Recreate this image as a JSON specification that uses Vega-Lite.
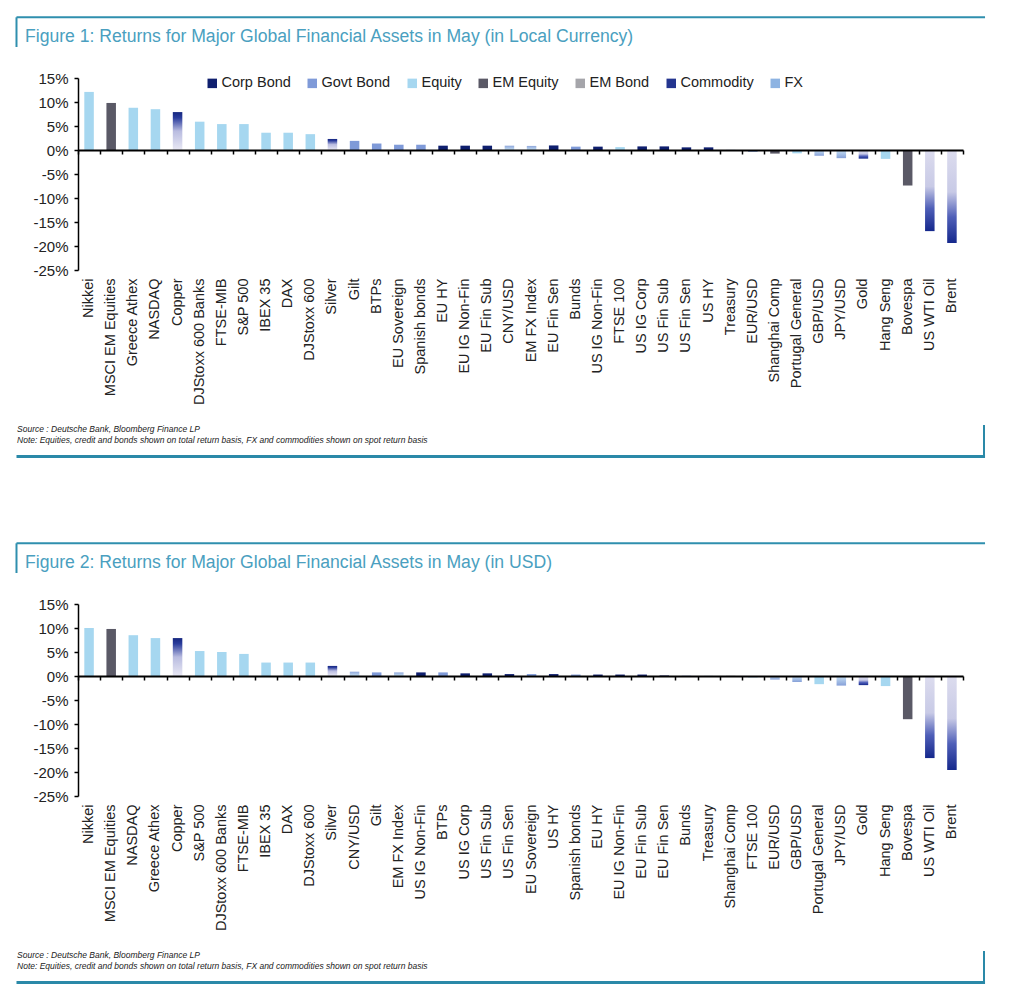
{
  "$schema": "https://vega.github.io/schema/vega-lite/v6.json",
  "background": "white",
  "padding": {"left": 14, "top": 16, "right": 10, "bottom": 5},
  "spacing": 83,
  "datasets": {
    "local": [
      {"name": "Nikkei", "type": "Equity", "v": 12.1},
      {"name": "MSCI EM Equities", "type": "EM Equity", "v": 9.8},
      {"name": "Greece Athex", "type": "Equity", "v": 8.8},
      {"name": "NASDAQ", "type": "Equity", "v": 8.5},
      {"name": "Copper", "type": "Commodity", "v": 7.9},
      {"name": "DJStoxx 600 Banks", "type": "Equity", "v": 5.9},
      {"name": "FTSE-MIB", "type": "Equity", "v": 5.4},
      {"name": "S&P 500", "type": "Equity", "v": 5.4},
      {"name": "IBEX 35", "type": "Equity", "v": 3.6},
      {"name": "DAX", "type": "Equity", "v": 3.6},
      {"name": "DJStoxx 600", "type": "Equity", "v": 3.3},
      {"name": "Silver", "type": "Commodity", "v": 2.3},
      {"name": "Gilt", "type": "Govt Bond", "v": 1.9},
      {"name": "BTPs", "type": "Govt Bond", "v": 1.35},
      {"name": "EU Sovereign", "type": "Govt Bond", "v": 1.1},
      {"name": "Spanish bonds", "type": "Govt Bond", "v": 1.1},
      {"name": "EU HY", "type": "Corp Bond", "v": 0.9},
      {"name": "EU IG Non-Fin", "type": "Corp Bond", "v": 0.9},
      {"name": "EU Fin Sub", "type": "Corp Bond", "v": 0.9},
      {"name": "CNY/USD", "type": "FX", "v": 0.9},
      {"name": "EM FX Index", "type": "FX", "v": 0.85},
      {"name": "EU Fin Sen", "type": "Corp Bond", "v": 0.95},
      {"name": "Bunds", "type": "Govt Bond", "v": 0.7},
      {"name": "US IG Non-Fin", "type": "Corp Bond", "v": 0.7},
      {"name": "FTSE 100", "type": "Equity", "v": 0.6},
      {"name": "US IG Corp", "type": "Corp Bond", "v": 0.75},
      {"name": "US Fin Sub", "type": "Corp Bond", "v": 0.75},
      {"name": "US Fin Sen", "type": "Corp Bond", "v": 0.55},
      {"name": "US HY", "type": "Corp Bond", "v": 0.55},
      {"name": "Treasury", "type": "Govt Bond", "v": 0.02},
      {"name": "EUR/USD", "type": "FX", "v": -0.4},
      {"name": "Shanghai Comp", "type": "EM Equity", "v": -0.75},
      {"name": "Portugal General", "type": "Equity", "v": -0.7},
      {"name": "GBP/USD", "type": "FX", "v": -1.2},
      {"name": "JPY/USD", "type": "FX", "v": -1.7},
      {"name": "Gold", "type": "Commodity", "v": -1.8},
      {"name": "Hang Seng", "type": "Equity", "v": -1.85},
      {"name": "Bovespa", "type": "EM Equity", "v": -7.4},
      {"name": "US WTI Oil", "type": "Commodity", "v": -16.9},
      {"name": "Brent", "type": "Commodity", "v": -19.4}
    ],
    "usd": [
      {"name": "Nikkei", "type": "Equity", "v": 10.0},
      {"name": "MSCI EM Equities", "type": "EM Equity", "v": 9.8},
      {"name": "NASDAQ", "type": "Equity", "v": 8.5},
      {"name": "Greece Athex", "type": "Equity", "v": 7.9},
      {"name": "Copper", "type": "Commodity", "v": 7.9},
      {"name": "S&P 500", "type": "Equity", "v": 5.2},
      {"name": "DJStoxx 600 Banks", "type": "Equity", "v": 5.0},
      {"name": "FTSE-MIB", "type": "Equity", "v": 4.6},
      {"name": "IBEX 35", "type": "Equity", "v": 2.8},
      {"name": "DAX", "type": "Equity", "v": 2.8},
      {"name": "DJStoxx 600", "type": "Equity", "v": 2.8},
      {"name": "Silver", "type": "Commodity", "v": 2.1},
      {"name": "CNY/USD", "type": "FX", "v": 0.9},
      {"name": "Gilt", "type": "Govt Bond", "v": 0.75},
      {"name": "EM FX Index", "type": "FX", "v": 0.75},
      {"name": "US IG Non-Fin", "type": "Corp Bond", "v": 0.75},
      {"name": "BTPs", "type": "Govt Bond", "v": 0.75},
      {"name": "US IG Corp", "type": "Corp Bond", "v": 0.55},
      {"name": "US Fin Sub", "type": "Corp Bond", "v": 0.55},
      {"name": "US Fin Sen", "type": "Corp Bond", "v": 0.4},
      {"name": "EU Sovereign", "type": "Govt Bond", "v": 0.4},
      {"name": "US HY", "type": "Corp Bond", "v": 0.4},
      {"name": "Spanish bonds", "type": "Govt Bond", "v": 0.3},
      {"name": "EU HY", "type": "Corp Bond", "v": 0.3},
      {"name": "EU IG Non-Fin", "type": "Corp Bond", "v": 0.3},
      {"name": "EU Fin Sub", "type": "Corp Bond", "v": 0.3},
      {"name": "EU Fin Sen", "type": "Corp Bond", "v": 0.1},
      {"name": "Bunds", "type": "Govt Bond", "v": 0.05},
      {"name": "Treasury", "type": "Govt Bond", "v": 0.02},
      {"name": "Shanghai Comp", "type": "EM Equity", "v": 0.02},
      {"name": "FTSE 100", "type": "Equity", "v": -0.3},
      {"name": "EUR/USD", "type": "FX", "v": -0.75},
      {"name": "GBP/USD", "type": "FX", "v": -1.25},
      {"name": "Portugal General", "type": "Equity", "v": -1.7},
      {"name": "JPY/USD", "type": "FX", "v": -2.0},
      {"name": "Gold", "type": "Commodity", "v": -1.9},
      {"name": "Hang Seng", "type": "Equity", "v": -2.1},
      {"name": "Bovespa", "type": "EM Equity", "v": -9.0},
      {"name": "US WTI Oil", "type": "Commodity", "v": -17.1},
      {"name": "Brent", "type": "Commodity", "v": -19.6}
    ]
  },
  "vconcat": [
    {
      "width": 885,
      "height": 192,
      "resolve": {"scale": {"x": "independent", "y": "independent"}},
      "layer": [
        {
          "data": {"name": "local"},
          "resolve": {"axis": {"x": "independent"}},
          "layer": [
            {
              "mark": {"type": "bar", "width": {"band": 0.43}},
              "encoding": {
                "x": {"field": "name", "type": "nominal", "sort": null, "scale": {"paddingInner": 0, "paddingOuter": 0},
                  "axis": {"orient": "bottom", "title": null, "domain": false, "ticks": false, "grid": false, "labelAngle": -90, "labelPadding": 8, "labelFontSize": 14.5, "labelColor": "#222", "labelLimit": 300, "labelOverlap": false}},
                "y": {"field": "v", "type": "quantitative", "scale": {"domain": [-25, 15], "nice": false},
                  "axis": {"values": [-25, -20, -15, -10, -5, 0, 5, 10, 15], "labelExpr": "datum.value + '%'", "labelOverlap": false, "labelSeparation": 0, "grid": false, "title": null, "domainColor": "#000", "domainWidth": 1.5, "tickColor": "#000", "tickWidth": 1.5, "tickSize": 4, "labelFontSize": 15, "labelColor": "#222", "labelPadding": 6}},
                "color": {
                  "condition": [
                    {"test": "datum.type === 'Commodity' && datum.v >= 0", "value": {"gradient": "linear", "x1": 0, "y1": 0, "x2": 0, "y2": 1, "stops": [{"offset": 0, "color": "#15267f"}, {"offset": 0.15, "color": "#2a3c9c"}, {"offset": 0.5, "color": "#b9bce0"}, {"offset": 1, "color": "#e8e8f4"}]}},
                    {"test": "datum.type === 'Commodity' && datum.v < 0", "value": {"gradient": "linear", "x1": 0, "y1": 0, "x2": 0, "y2": 1, "stops": [{"offset": 0, "color": "#dcdcee"}, {"offset": 0.45, "color": "#c8cae6"}, {"offset": 0.72, "color": "#4f5fb8"}, {"offset": 1, "color": "#15288c"}]}},
                    {"test": "datum.type === 'FX' && datum.v >= 0", "value": {"gradient": "linear", "x1": 0, "y1": 0, "x2": 0, "y2": 1, "stops": [{"offset": 0, "color": "#8ea6da"}, {"offset": 1, "color": "#c8e2f5"}]}},
                    {"test": "datum.type === 'FX' && datum.v < 0", "value": {"gradient": "linear", "x1": 0, "y1": 0, "x2": 0, "y2": 1, "stops": [{"offset": 0, "color": "#c8e2f5"}, {"offset": 1, "color": "#86a0d8"}]}}
                  ],
                  "field": "type", "type": "nominal",
                  "scale": {"domain": ["Corp Bond", "Govt Bond", "Equity", "EM Equity", "EM Bond", "Commodity", "FX"], "range": ["#0f1f6e", "#7f9ad8", "#a6d7f0", "#5a5966", "#a5a5aa", "#24358f", "#8db3e2"]},
                  "legend": {"orient": "none", "legendX": 127, "legendY": -2, "direction": "horizontal", "title": null, "symbolType": "square", "symbolSize": 90, "symbolStrokeWidth": 0, "labelFontSize": 14.5, "labelColor": "#222", "columnPadding": 14, "labelOffset": 2, "padding": 0}
                }
              }
            },
            {
              "mark": {"type": "rule", "opacity": 0, "strokeWidth": 0},
              "encoding": {
                "x": {"field": "name", "type": "nominal", "sort": null,
                  "axis": {"orient": "bottom", "title": null, "labels": false, "offset": -120, "domain": true, "domainColor": "#000", "domainWidth": 2, "ticks": true, "tickBand": "extent", "tickSize": 4, "tickWidth": 1.5, "tickColor": "#000", "grid": false, "zindex": 1}}
              }
            }
          ]
        },
        {
          "data": {"values": [{}]},
          "layer": [
            {"mark": {"type": "rule", "color": "#2f8fae", "strokeWidth": 2},
             "encoding": {"x": {"datum": -0.0695, "type": "quantitative", "scale": {"domain": [0, 1], "nice": false, "zero": false}, "axis": null}, "x2": {"datum": 1.0249},
                          "y": {"datum": 1.3162, "type": "quantitative", "scale": {"domain": [0, 1], "nice": false, "zero": false}, "axis": null}}},
            {"mark": {"type": "rule", "color": "#2f8fae", "strokeWidth": 2},
             "encoding": {"x": {"datum": -0.0695, "type": "quantitative", "scale": {"domain": [0, 1], "nice": false, "zero": false}, "axis": null},
                          "y": {"datum": 1.3162, "type": "quantitative", "scale": {"domain": [0, 1], "nice": false, "zero": false}, "axis": null}, "y2": {"datum": 1.1615}}},
            {"mark": {"type": "rule", "color": "#2a89a8", "strokeWidth": 3},
             "encoding": {"x": {"datum": -0.0695, "type": "quantitative", "scale": {"domain": [0, 1], "nice": false, "zero": false}, "axis": null}, "x2": {"datum": 1.0249},
                          "y": {"datum": -0.9714, "type": "quantitative", "scale": {"domain": [0, 1], "nice": false, "zero": false}, "axis": null}}},
            {"mark": {"type": "rule", "color": "#2a89a8", "strokeWidth": 2},
             "encoding": {"x": {"datum": 1.0237, "type": "quantitative", "scale": {"domain": [0, 1], "nice": false, "zero": false}, "axis": null},
                          "y": {"datum": -0.8073, "type": "quantitative", "scale": {"domain": [0, 1], "nice": false, "zero": false}, "axis": null}, "y2": {"datum": -0.9714}}},
            {"mark": {"type": "text", "align": "left", "baseline": "alphabetic", "fontSize": 17.6, "color": "#4a9fc0", "font": "Liberation Sans"},
             "encoding": {"x": {"datum": -0.0599, "type": "quantitative", "scale": {"domain": [0, 1], "nice": false, "zero": false}, "axis": null},
                          "y": {"datum": 1.1849, "type": "quantitative", "scale": {"domain": [0, 1], "nice": false, "zero": false}, "axis": null},
                          "text": {"value": "Figure 1: Returns for Major Global Financial Assets in May (in Local Currency)"}}},
            {"mark": {"type": "text", "align": "left", "baseline": "alphabetic", "fontSize": 8.5, "fontStyle": "italic", "color": "#222", "font": "Liberation Sans"},
             "encoding": {"x": {"datum": -0.0689, "type": "quantitative", "scale": {"domain": [0, 1], "nice": false, "zero": false}, "axis": null},
                          "y": {"datum": -0.8438, "type": "quantitative", "scale": {"domain": [0, 1], "nice": false, "zero": false}, "axis": null},
                          "text": {"value": "Source : Deutsche Bank, Bloomberg Finance LP"}}},
            {"mark": {"type": "text", "align": "left", "baseline": "alphabetic", "fontSize": 8.5, "fontStyle": "italic", "color": "#222", "font": "Liberation Sans"},
             "encoding": {"x": {"datum": -0.0689, "type": "quantitative", "scale": {"domain": [0, 1], "nice": false, "zero": false}, "axis": null},
                          "y": {"datum": -0.9010, "type": "quantitative", "scale": {"domain": [0, 1], "nice": false, "zero": false}, "axis": null},
                          "text": {"value": "Note: Equities, credit and bonds shown on total return basis, FX and commodities shown on spot return basis"}}}
          ]
        }
      ]
    },
    {
      "width": 885,
      "height": 192,
      "resolve": {"scale": {"x": "independent", "y": "independent"}},
      "layer": [
        {
          "data": {"name": "usd"},
          "resolve": {"axis": {"x": "independent"}},
          "layer": [
            {
              "mark": {"type": "bar", "width": {"band": 0.43}},
              "encoding": {
                "x": {"field": "name", "type": "nominal", "sort": null, "scale": {"paddingInner": 0, "paddingOuter": 0},
                  "axis": {"orient": "bottom", "title": null, "domain": false, "ticks": false, "grid": false, "labelAngle": -90, "labelPadding": 8, "labelFontSize": 14.5, "labelColor": "#222", "labelLimit": 300, "labelOverlap": false}},
                "y": {"field": "v", "type": "quantitative", "scale": {"domain": [-25, 15], "nice": false},
                  "axis": {"values": [-25, -20, -15, -10, -5, 0, 5, 10, 15], "labelExpr": "datum.value + '%'", "labelOverlap": false, "labelSeparation": 0, "grid": false, "title": null, "domainColor": "#000", "domainWidth": 1.5, "tickColor": "#000", "tickWidth": 1.5, "tickSize": 4, "labelFontSize": 15, "labelColor": "#222", "labelPadding": 6}},
                "color": {
                  "condition": [
                    {"test": "datum.type === 'Commodity' && datum.v >= 0", "value": {"gradient": "linear", "x1": 0, "y1": 0, "x2": 0, "y2": 1, "stops": [{"offset": 0, "color": "#15267f"}, {"offset": 0.15, "color": "#2a3c9c"}, {"offset": 0.5, "color": "#b9bce0"}, {"offset": 1, "color": "#e8e8f4"}]}},
                    {"test": "datum.type === 'Commodity' && datum.v < 0", "value": {"gradient": "linear", "x1": 0, "y1": 0, "x2": 0, "y2": 1, "stops": [{"offset": 0, "color": "#dcdcee"}, {"offset": 0.45, "color": "#c8cae6"}, {"offset": 0.72, "color": "#4f5fb8"}, {"offset": 1, "color": "#15288c"}]}},
                    {"test": "datum.type === 'FX' && datum.v >= 0", "value": {"gradient": "linear", "x1": 0, "y1": 0, "x2": 0, "y2": 1, "stops": [{"offset": 0, "color": "#8ea6da"}, {"offset": 1, "color": "#c8e2f5"}]}},
                    {"test": "datum.type === 'FX' && datum.v < 0", "value": {"gradient": "linear", "x1": 0, "y1": 0, "x2": 0, "y2": 1, "stops": [{"offset": 0, "color": "#c8e2f5"}, {"offset": 1, "color": "#86a0d8"}]}}
                  ],
                  "field": "type", "type": "nominal",
                  "scale": {"domain": ["Corp Bond", "Govt Bond", "Equity", "EM Equity", "EM Bond", "Commodity", "FX"], "range": ["#0f1f6e", "#7f9ad8", "#a6d7f0", "#5a5966", "#a5a5aa", "#24358f", "#8db3e2"]},
                  "legend": {"orient": "none", "legendX": 127, "legendY": -2, "direction": "horizontal", "title": null, "symbolType": "square", "symbolSize": 90, "symbolStrokeWidth": 0, "labelFontSize": 14.5, "labelColor": "#222", "columnPadding": 14, "labelOffset": 2, "padding": 0}
                }
              }
            },
            {
              "mark": {"type": "rule", "opacity": 0, "strokeWidth": 0},
              "encoding": {
                "x": {"field": "name", "type": "nominal", "sort": null,
                  "axis": {"orient": "bottom", "title": null, "labels": false, "offset": -120, "domain": true, "domainColor": "#000", "domainWidth": 2, "ticks": true, "tickBand": "extent", "tickSize": 4, "tickWidth": 1.5, "tickColor": "#000", "grid": false, "zindex": 1}}
              }
            }
          ]
        },
        {
          "data": {"values": [{}]},
          "layer": [
            {"mark": {"type": "rule", "color": "#2f8fae", "strokeWidth": 2},
             "encoding": {"x": {"datum": -0.0695, "type": "quantitative", "scale": {"domain": [0, 1], "nice": false, "zero": false}, "axis": null}, "x2": {"datum": 1.0249},
                          "y": {"datum": 1.3162, "type": "quantitative", "scale": {"domain": [0, 1], "nice": false, "zero": false}, "axis": null}}},
            {"mark": {"type": "rule", "color": "#2f8fae", "strokeWidth": 2},
             "encoding": {"x": {"datum": -0.0695, "type": "quantitative", "scale": {"domain": [0, 1], "nice": false, "zero": false}, "axis": null},
                          "y": {"datum": 1.3162, "type": "quantitative", "scale": {"domain": [0, 1], "nice": false, "zero": false}, "axis": null}, "y2": {"datum": 1.1615}}},
            {"mark": {"type": "rule", "color": "#2a89a8", "strokeWidth": 3},
             "encoding": {"x": {"datum": -0.0695, "type": "quantitative", "scale": {"domain": [0, 1], "nice": false, "zero": false}, "axis": null}, "x2": {"datum": 1.0249},
                          "y": {"datum": -0.9714, "type": "quantitative", "scale": {"domain": [0, 1], "nice": false, "zero": false}, "axis": null}}},
            {"mark": {"type": "rule", "color": "#2a89a8", "strokeWidth": 2},
             "encoding": {"x": {"datum": 1.0237, "type": "quantitative", "scale": {"domain": [0, 1], "nice": false, "zero": false}, "axis": null},
                          "y": {"datum": -0.8073, "type": "quantitative", "scale": {"domain": [0, 1], "nice": false, "zero": false}, "axis": null}, "y2": {"datum": -0.9714}}},
            {"mark": {"type": "text", "align": "left", "baseline": "alphabetic", "fontSize": 17.6, "color": "#4a9fc0", "font": "Liberation Sans"},
             "encoding": {"x": {"datum": -0.0599, "type": "quantitative", "scale": {"domain": [0, 1], "nice": false, "zero": false}, "axis": null},
                          "y": {"datum": 1.1849, "type": "quantitative", "scale": {"domain": [0, 1], "nice": false, "zero": false}, "axis": null},
                          "text": {"value": "Figure 2: Returns for Major Global Financial Assets in May (in USD)"}}},
            {"mark": {"type": "text", "align": "left", "baseline": "alphabetic", "fontSize": 8.5, "fontStyle": "italic", "color": "#222", "font": "Liberation Sans"},
             "encoding": {"x": {"datum": -0.0689, "type": "quantitative", "scale": {"domain": [0, 1], "nice": false, "zero": false}, "axis": null},
                          "y": {"datum": -0.8438, "type": "quantitative", "scale": {"domain": [0, 1], "nice": false, "zero": false}, "axis": null},
                          "text": {"value": "Source : Deutsche Bank, Bloomberg Finance LP"}}},
            {"mark": {"type": "text", "align": "left", "baseline": "alphabetic", "fontSize": 8.5, "fontStyle": "italic", "color": "#222", "font": "Liberation Sans"},
             "encoding": {"x": {"datum": -0.0689, "type": "quantitative", "scale": {"domain": [0, 1], "nice": false, "zero": false}, "axis": null},
                          "y": {"datum": -0.9010, "type": "quantitative", "scale": {"domain": [0, 1], "nice": false, "zero": false}, "axis": null},
                          "text": {"value": "Note: Equities, credit and bonds shown on total return basis, FX and commodities shown on spot return basis"}}}
          ]
        }
      ]
    }
  ],
  "config": {
    "view": {"stroke": null},
    "font": "Liberation Sans",
    "axis": {"labelFont": "Liberation Sans"},
    "axisY": {"labelOverlap": false},
    "legend": {"labelFont": "Liberation Sans"}
  }
}
